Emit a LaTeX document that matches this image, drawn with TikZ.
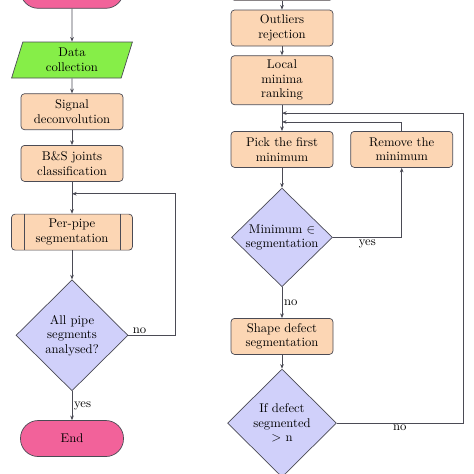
\documentclass[tikz,border=0pt]{standalone}
\usepackage{tikz}
\usetikzlibrary{arrows.meta,positioning,shapes.geometric,calc}
\definecolor{peach}{RGB}{252,214,180}
\definecolor{lavender}{RGB}{208,208,250}
\definecolor{endpink}{RGB}{242,98,154}
\definecolor{lime}{RGB}{134,238,72}
\definecolor{edge}{RGB}{75,75,85}
\tikzset{
  bloc/.style={draw=edge,line width=0.6pt,align=center,inner sep=2pt,
    font=\fontsize{10.8pt}{12.4pt}\selectfont},
  proc/.style={bloc,rounded corners=3pt,fill=peach,minimum width=3.06cm,
    minimum height=1.08cm},
  predef/.style={proc,minimum width=3.63cm},
  io/.style={bloc,trapezium,trapezium left angle=77,trapezium right angle=103,
    trapezium stretches=true,fill=lime,minimum width=3.63cm,minimum height=1.08cm},
  term/.style={bloc,rounded corners=0.53cm,fill=endpink,minimum width=3.09cm,
    minimum height=1.08cm},
  test/.style={bloc,diamond,aspect=1,inner sep=0pt,fill=lavender},
  fl/.style={-{Stealth[length=1.4mm,width=1.1mm]},draw=edge,line width=0.6pt},
  lbl/.style={inner sep=1.5pt,font=\fontsize{10.8pt}{12.4pt}\selectfont},
}

\begin{document}
\begin{tikzpicture}
  \path[use as bounding box,clip] (0,0) rectangle (14.22,-14.22);
  % left column
  \node[io] (data) at (2.16,-1.8) {Data\\collection};
  \node[term,above=0.99cm of data] (start) {};
  \node[proc,below=0.45cm of data] (deconv) {Signal\\deconvolution};
  \node[proc,below=0.45cm of deconv] (joints) {B\&S joints\\classification};
  \node[predef,below=0.96cm of joints] (perpipe) {Per-pipe\\segmentation};
  \draw[edge,line width=0.6pt] ([xshift=0.39cm]perpipe.north west) -- ([xshift=0.39cm]perpipe.south west);
  \draw[edge,line width=0.6pt] ([xshift=-0.39cm]perpipe.north east) -- ([xshift=-0.39cm]perpipe.south east);
  \node[test,minimum width=3.36cm,minimum height=3.33cm,below=0.87cm of perpipe] (alldone) {All pipe\\segments\\analysed?};
  \node[term,below=0.87cm of alldone] (end) {End};
  \coordinate (merge) at ($(joints.south)!0.375!(perpipe.north)$);
  \draw[fl] (start) -- (data); \draw[fl] (data) -- (deconv);
  \draw[fl] (deconv) -- (joints); \draw[fl] (joints) -- (perpipe);
  \draw[fl] (perpipe) -- (alldone);
  \draw[fl] (alldone) -- node[lbl,right]{yes} (end);
  \draw[fl] (alldone.east) -- node[lbl,above right,pos=0,xshift=2pt]{no} ++(1.41,0) |- (merge);
  % right column
  \node[proc] (outliers) at (8.46,-0.84) {Outliers\\rejection};
  \node[proc,above=0.27cm of outliers] (prev) {};
  \node[proc,minimum height=1.47cm,below=0.27cm of outliers] (ranking) {Local\\minima\\ranking};
  \node[proc,below=0.78cm of ranking] (pick) {Pick the first\\minimum};
  \node[proc,right=0.51cm of pick] (remove) {Remove the\\minimum};
  \node[test,minimum width=3.03cm,minimum height=2.88cm,below=0.6cm of pick] (inseg) {Minimum $\in$\\segmentation};
  \node[proc,below=0.93cm of inseg] (shape) {Shape defect\\segmentation};
  \node[test,minimum width=3.27cm,minimum height=3.24cm,below=0.42cm of shape] (count) {If defect\\segmented\\$>$ n};
  \coordinate (outer) at ($(ranking.south)!0.31!(pick.north)$);
  \coordinate (inner) at ($(ranking.south)!0.65!(pick.north)$);
  \draw[fl] (prev) -- (outliers); \draw[fl] (outliers) -- (ranking);
  \draw[fl] (ranking) -- (pick); \draw[fl] (pick) -- (inseg);
  \draw[fl] (remove.north) |- (inner);
  \draw[fl] (inseg.east) -| node[lbl,below,pos=0.25]{yes} (remove.south);
  \draw[fl] (inseg) -- node[lbl,right]{no} (shape);
  \draw[fl] (shape) -- (count);
  \draw[fl] (count.east) -- node[lbl,below]{no} ++(3.78,0) |- (outer);
\end{tikzpicture}
\end{document}
